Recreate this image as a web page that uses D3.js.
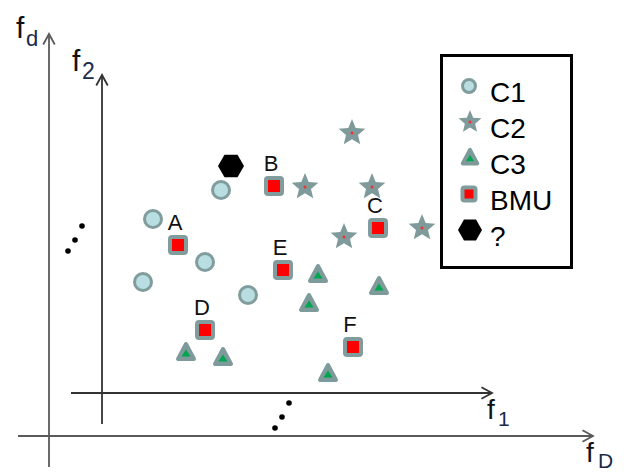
<!DOCTYPE html>
<html><head><meta charset="utf-8">
<script src="https://cdn.jsdelivr.net/npm/d3@7"></script>
<style>body{margin:0;background:#fff}svg{display:block}text{font-family:"Liberation Sans",Arial,sans-serif}</style>
</head><body><svg id="c" width="624" height="475"></svg>
<script>
// Data (feature-space units: f1, f2)
const c1 = [[11.9,20.3],[5.1,17.4],[10.3,13.1],[4.1,11.1],[14.6,9.8]];
const c2 = [[25.0,26.0],[20.3,20.6],[27.0,20.6],[24.2,15.6],[32.0,16.5]];
const c3 = [[21.6,11.8],[27.7,10.6],[20.7,8.9],[8.4,4.0],[12.1,3.5],[22.6,1.9]];
const bmuNames = ["A","B","C","D","E","F"];
const bmu = [[7.6,14.8],[17.2,20.7],[27.6,16.5],[10.3,6.3],[18.1,12.3],[25.1,4.6]];
const unknown = [[12.9,22.7]];
const dotsLeft = [[-2.0,16.7],[-2.7,15.3],[-3.4,14.2]];
const dotsBottom = [[18.7,-1.0],[18.0,-2.4],[17.3,-3.5]];
const legendLabels = ["C1","C2","C3","BMU","?"];

const svg = d3.select("#c");
const x = d3.scaleLinear().domain([0,39]).range([102,492]);
const y = d3.scaleLinear().domain([0,31.8]).range([393,75]);

const axisCol = "#4a4a4a";
const grayStroke = "#819c9c";
const grayFill = "#7f9a9a";

function arrowLine(x1,y1,x2,y2,col){
  svg.append("line").attr("x1",x1).attr("y1",y1).attr("x2",x2).attr("y2",y2)
    .attr("stroke",col).attr("stroke-width",1.8);
  const ang = Math.atan2(y2-y1,x2-x1);
  const L=12, a=0.5;
  const p = [[x2-L*Math.cos(ang-a), y2-L*Math.sin(ang-a)],[x2,y2],[x2-L*Math.cos(ang+a), y2-L*Math.sin(ang+a)]];
  svg.append("path").attr("d",d3.line()(p)).attr("fill","none").attr("stroke",col).attr("stroke-width",1.8);
}
// outer axes (fd, fD)
arrowLine(49,467,49,34,"#5a5a5a");
arrowLine(18,436,593,436,"#5a5a5a");
// inner axes (f2, f1)
arrowLine(x(0),424,x(0),y(31.8),"#333");
arrowLine(71,y(0),x(39),y(0),"#333");

function axLabel(xp,yp,main,sub,fs,ss,sdx,sdy){
  svg.append("text").attr("x",xp).attr("y",yp).attr("font-size",fs).attr("fill","#111").text(main);
  svg.append("text").attr("x",xp+sdx).attr("y",yp+sdy).attr("font-size",ss).attr("fill","#1a2a4a").text(sub);
}
axLabel(16,38,"f","d",30,22,10,8);
axLabel(72,71,"f","2",30,23,10,8);
axLabel(487,419,"f","1",28,21,11,7);
axLabel(586,462,"f","D",28,21,12,6);

// ellipsis dots
svg.selectAll("circle.dl").data(dotsLeft.concat(dotsBottom)).join("circle")
  .attr("cx",d=>x(d[0])).attr("cy",d=>y(d[1])).attr("r",2.8).attr("fill","#000");

// marker drawers
function drawCircle(g,cx,cy,r){
  g.append("circle").attr("cx",cx).attr("cy",cy).attr("r",r).attr("fill","#b8dee2").attr("stroke",grayStroke).attr("stroke-width",3);
}
function starPath(R,r){
  const pts=[];
  for(let i=0;i<10;i++){const rad=i%2?r:R;const a=-Math.PI/2+i*Math.PI/5;pts.push([rad*Math.cos(a),rad*Math.sin(a)]);}
  return d3.line()(pts)+"Z";
}
function drawStar(g,cx,cy,R){
  g.append("path").attr("d",starPath(R,R*0.45)).attr("transform",`translate(${cx},${cy})`).attr("fill",grayFill);
  g.append("circle").attr("cx",cx).attr("cy",cy).attr("r",1.5).attr("fill","#e33");
}
function drawTri(g,cx,cy,s){
  const o=[[0,-9*s],[-8*s,6*s],[8*s,6*s]], i=[[0,-3.5*s],[-4.5*s,3.5*s],[4.5*s,3.5*s]];
  g.append("path").attr("d",d3.line()(o)+"Z").attr("transform",`translate(${cx},${cy})`)
    .attr("fill",grayFill).attr("stroke",grayFill).attr("stroke-width",4).attr("stroke-linejoin","round");
  g.append("path").attr("d",d3.line()(i)+"Z").attr("transform",`translate(${cx},${cy})`).attr("fill","#00a651");
}
function drawSquare(g,cx,cy,s){
  g.append("rect").attr("x",cx-s/2).attr("y",cy-s/2).attr("width",s).attr("height",s).attr("rx",2)
    .attr("fill","#ff0000").attr("stroke",grayStroke).attr("stroke-width",4);
}
function drawHex(g,cx,cy,r){
  const pts=d3.range(6).map(k=>[r*Math.cos(k*Math.PI/3), r*Math.sin(k*Math.PI/3)*1.0]);
  g.append("path").attr("d",d3.line()(pts)+"Z").attr("transform",`translate(${cx},${cy})`).attr("fill","#000");
}

const g = svg.append("g");
c1.forEach(d=>drawCircle(g,x(d[0]),y(d[1]),8.5));
c2.forEach(d=>drawStar(g,x(d[0]),y(d[1]),14));
c3.forEach(d=>drawTri(g,x(d[0]),y(d[1]),1));
bmu.forEach(d=>drawSquare(g,x(d[0]),y(d[1]),16));
unknown.forEach(d=>drawHex(g,x(d[0]),y(d[1]),13));
g.selectAll("text.bl").data(bmu).join("text").attr("class","bl")
  .attr("x",d=>x(d[0])-3).attr("y",(d,i)=>y(d[1])-15).attr("text-anchor","middle")
  .attr("font-size",22).attr("fill","#111").text((d,i)=>bmuNames[i]);

// legend
const lg = svg.append("g");
lg.append("rect").attr("x",441.5).attr("y",55.5).attr("width",130).attr("height",212)
  .attr("fill","#fff").attr("stroke","#000").attr("stroke-width",3);
const ly = d3.scalePoint().domain(legendLabels).range([86,230]);
drawCircle(lg,469,ly("C1"),6.5);
drawStar(lg,470,ly("C2"),12);
drawTri(lg,470,ly("C3"),0.9);
drawSquare(lg,469,ly("BMU"),13);
drawHex(lg,470,ly("?"),12);
lg.selectAll("text").data(legendLabels).join("text")
  .attr("x",490).attr("y",d=>ly(d)+16).attr("font-size",28).attr("fill","#000").text(d=>d);
</script></body></html>
